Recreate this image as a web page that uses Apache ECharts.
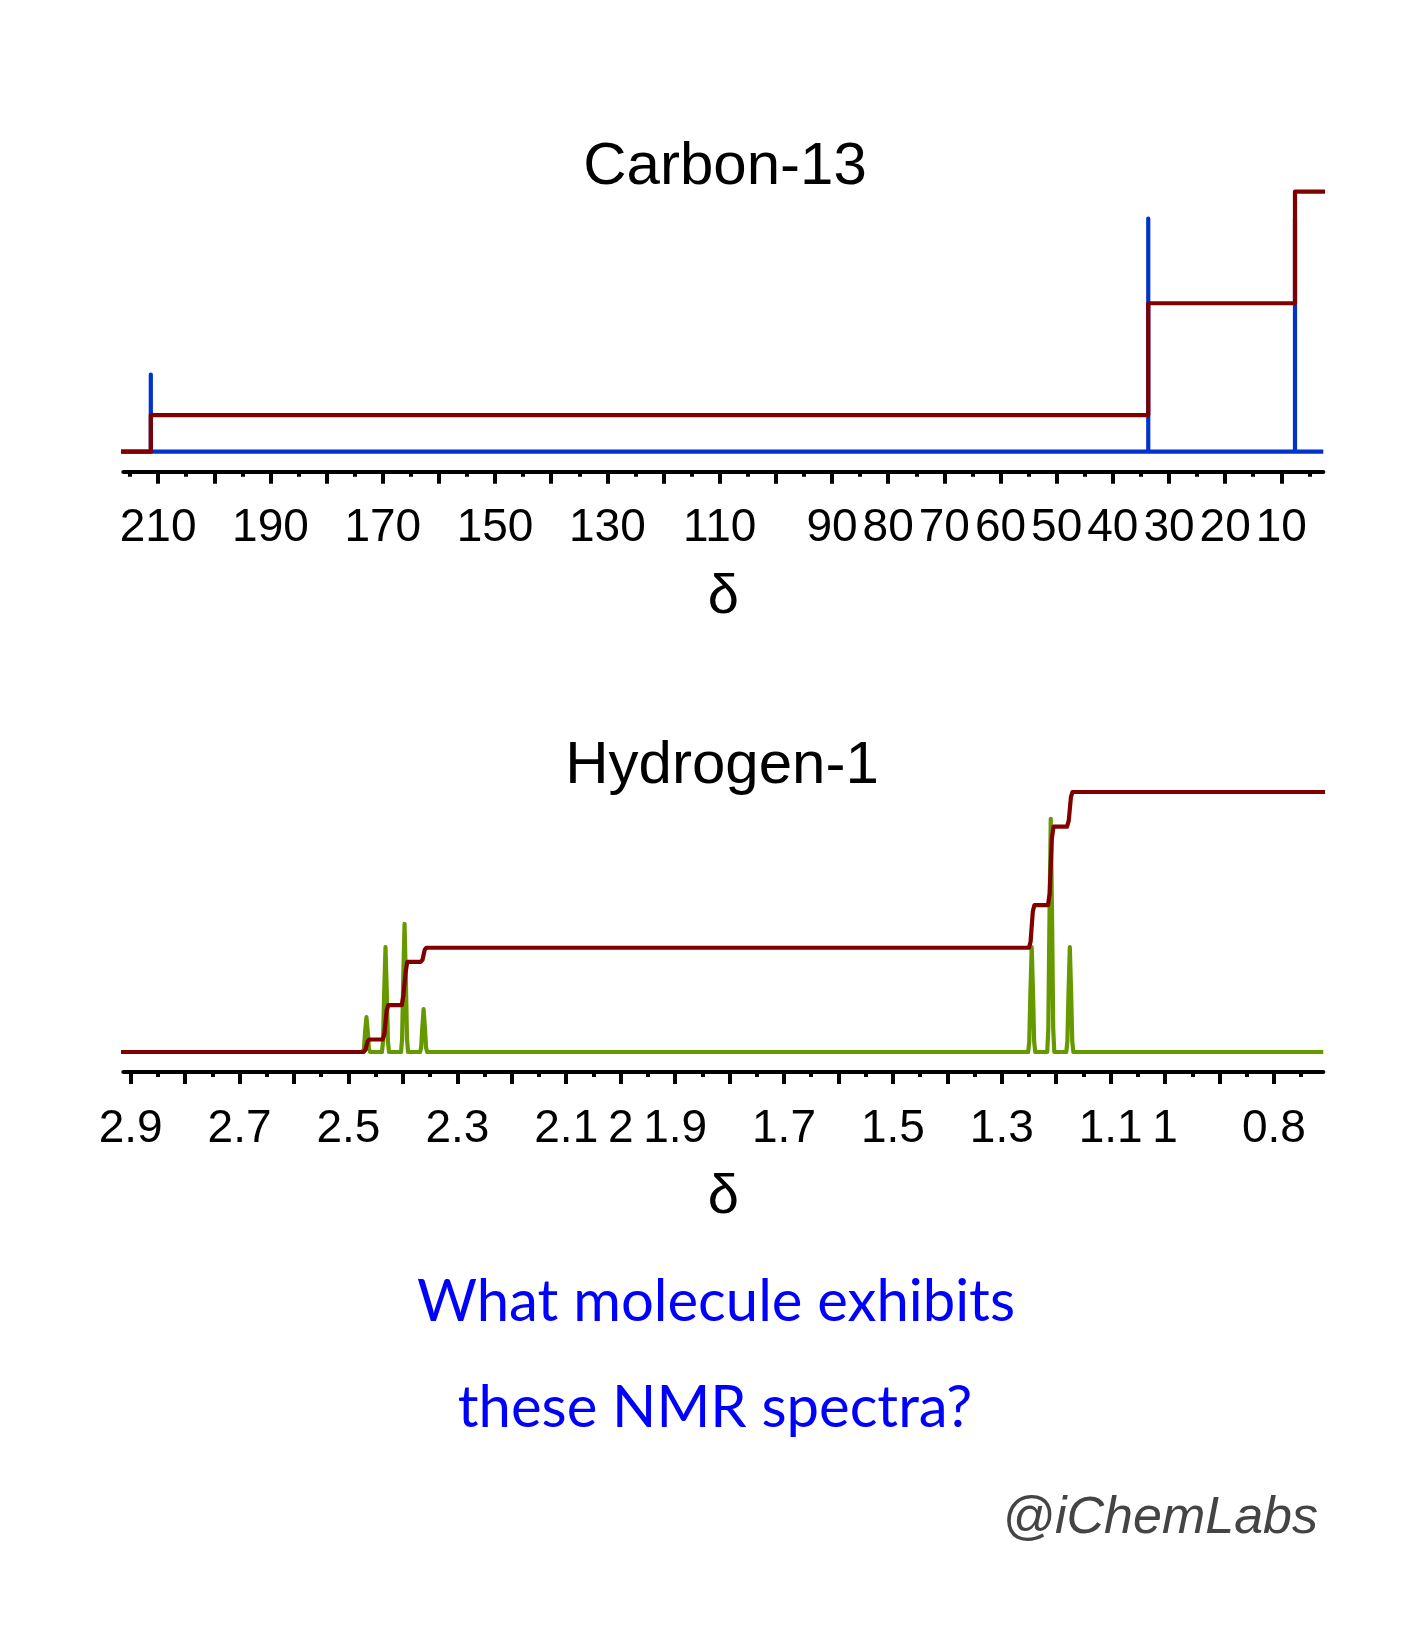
<!DOCTYPE html>
<html>
<head>
<meta charset="utf-8">
<style>html,body{margin:0;padding:0;background:#fff}#main{width:1425px;height:1643px}</style>
<script src="https://cdn.jsdelivr.net/npm/echarts@6/dist/echarts.min.js"></script>
</head>
<body>
<div id="main"></div>
<script>
// carbon-13 spectrum
var carbonShift = [216.6, 211.3, 211.3, 211.3, 33.69, 33.69, 33.69, 7.56, 7.56, 7.56, 2.52];
var carbonSignal = [0, 0, 29.7, 0, 0, 89.7, 0, 0, 89.7, 0, 0];
var carbonIntShift = [216.6, 211.3, 211.3, 33.69, 33.69, 7.56, 7.56, 2.22];
var carbonIntegral = [0, 0, 14.1, 14.1, 57.1, 57.1, 100, 100];
var carbonMajor = [210, 200, 190, 180, 170, 160, 150, 140, 130, 120, 110, 100, 90, 80, 70, 60, 50, 40, 30, 20, 10];
var carbonMinor = [215, 205, 195, 185, 175, 165, 155, 145, 135, 125, 115, 105, 95, 85, 75, 65, 55, 45, 35, 25, 15, 5];
var carbonLabels = [210, 190, 170, 150, 130, 110, 90, 80, 70, 60, 50, 40, 30, 20, 10];

// hydrogen-1 spectrum
var hydrogenShift = [2.9178,
    2.4735, 2.4715, 2.4695, 2.467, 2.4645, 2.4625, 2.4605,
    2.4385, 2.4365, 2.4345, 2.432, 2.4295, 2.4275, 2.4255,
    2.4035, 2.4015, 2.3995, 2.397, 2.3945, 2.3925, 2.3905,
    2.3685, 2.3665, 2.3645, 2.362, 2.3595, 2.3575, 2.3555,
    1.2515, 1.2495, 1.2475, 1.245, 1.2425, 1.2405, 1.2385,
    1.2165, 1.2145, 1.2125, 1.210, 1.2075, 1.2055, 1.2035,
    1.1815, 1.1795, 1.1775, 1.175, 1.1725, 1.1705, 1.1685,
    0.7094];
var hydrogenSignal = [0,
    0, 1.4, 7.5, 13.4, 7.5, 1.4, 0,
    0, 4, 22, 40.3, 22, 4, 0,
    0, 5, 27, 49.3, 27, 5, 0,
    0, 1.7, 9, 16.5, 9, 1.7, 0,
    0, 4, 22, 40.3, 22, 4, 0,
    0, 9, 49.5, 89.7, 49.5, 9, 0,
    0, 4, 22, 40.3, 22, 4, 0,
    0];
var hydrogenIntShift = [2.9178,
    2.472, 2.469, 2.467, 2.465, 2.462,
    2.437, 2.434, 2.432, 2.430, 2.427,
    2.402, 2.399, 2.397, 2.395, 2.392,
    2.367, 2.364, 2.362, 2.360, 2.357,
    1.250, 1.247, 1.245, 1.243, 1.240,
    1.215, 1.212, 1.210, 1.208, 1.205,
    1.180, 1.177, 1.175, 1.173, 1.170,
    0.7063];
var hydrogenIntegral = [0,
    0, 0.8, 2.4, 4.0, 4.8,
    4.8, 7, 11.4, 15.8, 18,
    18, 22, 26.4, 30.7, 34.7,
    34.7, 35.5, 37.4, 39.3, 40.1,
    40.1, 42.5, 48.3, 54, 56.5,
    56.5, 61, 71.6, 82, 86.7,
    86.7, 89, 93.4, 98, 100,
    100];
var hydrogenMajor = [2.9, 2.8, 2.7, 2.6, 2.5, 2.4, 2.3, 2.2, 2.1, 2, 1.9, 1.8, 1.7, 1.6, 1.5, 1.4, 1.3, 1.2, 1.1, 1, 0.9, 0.8];
var hydrogenMinor = [2.85, 2.75, 2.65, 2.55, 2.45, 2.35, 2.25, 2.15, 2.05, 1.95, 1.85, 1.75, 1.65, 1.55, 1.45, 1.35, 1.25, 1.15, 1.05, 0.95, 0.85, 0.75];
var hydrogenLabels = [2.9, 2.7, 2.5, 2.3, 2.1, 2, 1.9, 1.7, 1.5, 1.3, 1.1, 1, 0.8];

var BLUE = '#0033cc';
var GREEN = '#669900';
var MAROON = '#800000';
var SANS = '"Liberation Sans", Arial, sans-serif';

function zip(xs, ys) {
    var out = [];
    for (var i = 0; i < xs.length; i++) {
        out.push([xs[i], ys[i]]);
    }
    return out;
}

function mainAxis(grid, min, max, major, labels) {
    return {
        type: 'value', gridIndex: grid, inverse: true, min: min, max: max,
        position: 'bottom', offset: 20, splitLine: {show: false},
        name: 'δ', nameLocation: 'middle', nameGap: 98,
        nameTextStyle: {fontFamily: SANS, fontSize: 56, color: '#000'},
        axisLine: {show: true, onZero: false, lineStyle: {color: '#000', width: 4}},
        axisTick: {show: true, length: 12, customValues: major, lineStyle: {color: '#000', width: 4}},
        axisLabel: {
            show: true, margin: 34, customValues: labels, showMinLabel: true, showMaxLabel: true,
            fontFamily: SANS, fontSize: 46, color: '#000', formatter: function (v) { return String(v); }
        }
    };
}

function minorAxis(grid, min, max, minor) {
    return {
        type: 'value', gridIndex: grid, inverse: true, min: min, max: max,
        position: 'bottom', offset: 20, splitLine: {show: false},
        axisLine: {show: false, onZero: false},
        axisTick: {show: true, length: 5, customValues: minor, lineStyle: {color: '#000', width: 4}},
        axisLabel: {show: false}
    };
}

function lineSeries(xIndex, yIndex, data, color, z) {
    return {
        type: 'line', xAxisIndex: xIndex, yAxisIndex: yIndex, data: data, z: z,
        showSymbol: false, symbol: 'none', clip: false, animation: false,
        lineStyle: {color: color, width: 4.2, join: 'round'}
    };
}

var myChart = echarts.init(document.getElementById('main'), null, {renderer: 'canvas'});
myChart.setOption({
    animation: false,
    backgroundColor: '#fff',
    title: [
        {text: 'Carbon-13', left: 720, top: 132, textAlign: 'center',
            textStyle: {fontFamily: SANS, fontSize: 60, fontWeight: 'normal', color: '#000'}},
        {text: 'Hydrogen-1', left: 717, top: 731, textAlign: 'center',
            textStyle: {fontFamily: SANS, fontSize: 60, fontWeight: 'normal', color: '#000'}},
        {text: 'What molecule exhibits', left: 711, top: 1268, textAlign: 'center',
            textStyle: {fontFamily: 'Lato', fontSize: 58, fontWeight: 'normal', color: '#0000ff'}},
        {text: 'these NMR spectra?', left: 710, top: 1374, textAlign: 'center',
            textStyle: {fontFamily: 'Lato', fontSize: 58, fontWeight: 'normal', color: '#0000ff'}},
        {text: '@iChemLabs', left: 1313, top: 1488, textAlign: 'right',
            textStyle: {fontFamily: SANS, fontSize: 52, fontStyle: 'italic', fontWeight: 'normal', color: '#444444'}}
    ],
    grid: [
        {left: 123.3, top: 191.7, width: 1200, height: 260},
        {left: 123.3, top: 792, width: 1200, height: 260}
    ],
    xAxis: [
        mainAxis(0, 2.52, 216.2, carbonMajor, carbonLabels),
        minorAxis(0, 2.52, 216.2, carbonMinor),
        mainAxis(1, 0.7094, 2.9136, hydrogenMajor, hydrogenLabels),
        minorAxis(1, 0.7094, 2.9136, hydrogenMinor)
    ],
    yAxis: [
        {type: 'value', gridIndex: 0, min: 0, max: 100, show: false},
        {type: 'value', gridIndex: 1, min: 0, max: 100, show: false}
    ],
    series: [
        lineSeries(0, 0, zip(carbonShift, carbonSignal), BLUE, 2),
        lineSeries(0, 0, zip(carbonIntShift, carbonIntegral), MAROON, 3),
        lineSeries(2, 1, zip(hydrogenShift, hydrogenSignal), GREEN, 2),
        lineSeries(2, 1, zip(hydrogenIntShift, hydrogenIntegral), MAROON, 3)
    ]
});
</script>
</body>
</html>
